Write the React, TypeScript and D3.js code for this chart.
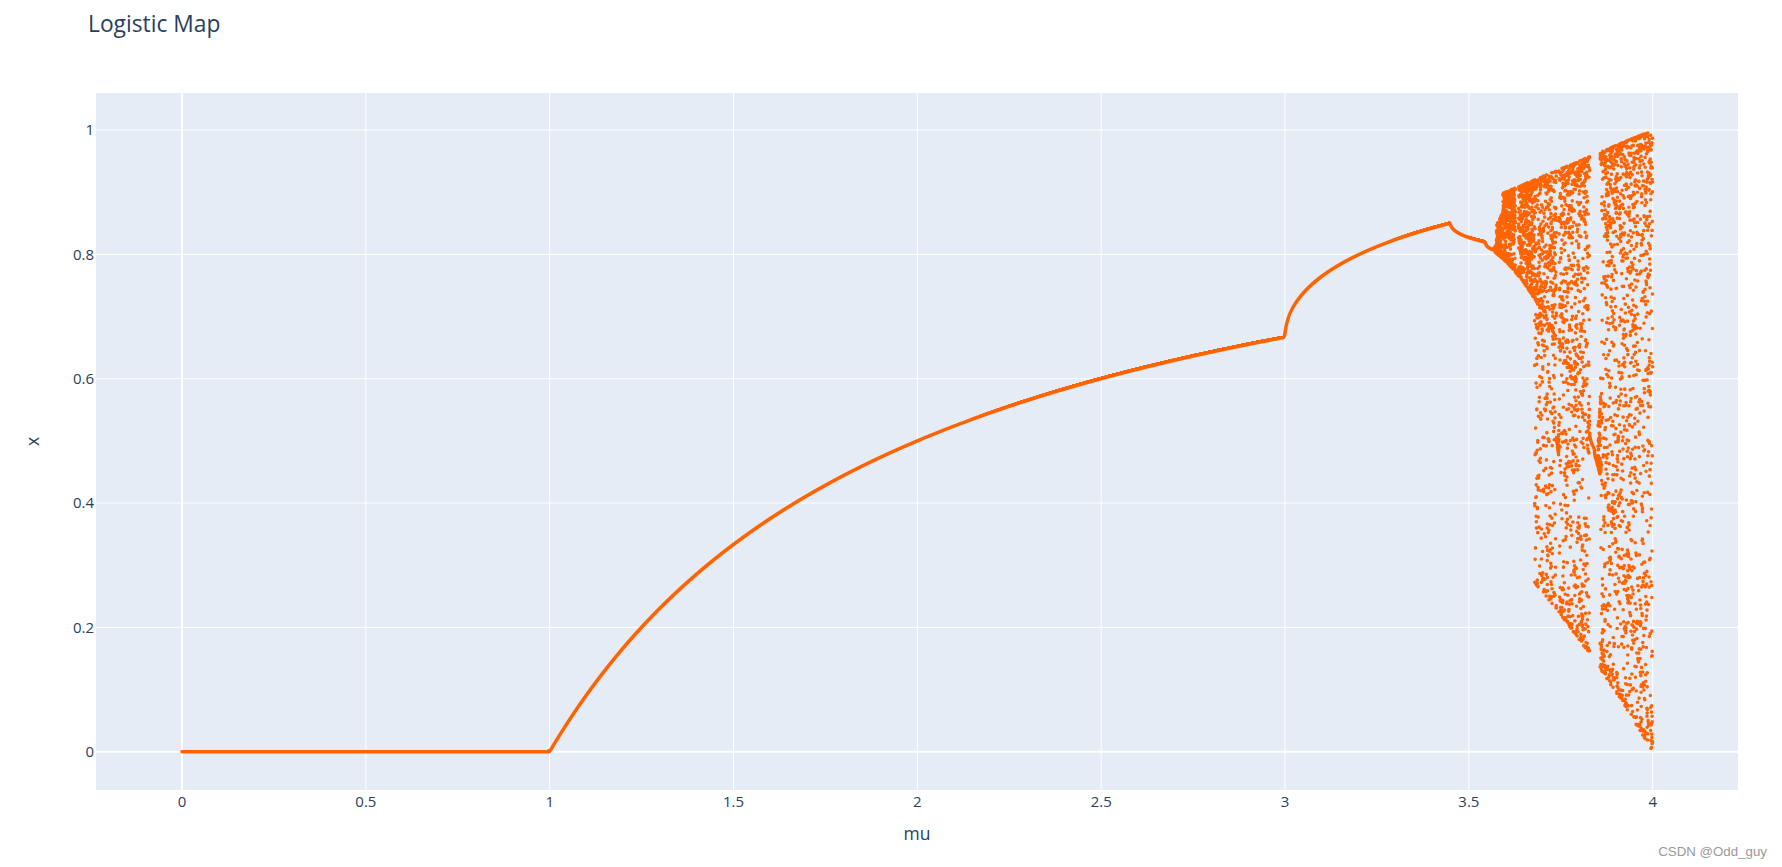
import React, { useMemo } from 'react';
import * as d3 from 'd3';

// ---- chart content ----
const TITLE = 'Logistic Map';
const X_LABEL = 'mu';
const Y_LABEL = 'x';
const WATERMARK = 'CSDN @Odd_guy';

// logistic map simulation parameters (the chart plots the final iterate x_n for each mu)
const MU_START = 0;
const MU_END = 4;
const MU_STEP = 0.0001;
const X_INITIAL = 0.5;
const ITERATIONS = 1035;

const X_TICKS = [0, 0.5, 1, 1.5, 2, 2.5, 3, 3.5, 4];
const Y_TICKS = [0, 0.2, 0.4, 0.6, 0.8, 1];
const X_DOMAIN = [-0.234, 4.232];
const Y_DOMAIN = [-0.0616, 1.0595];

// ---- layout ----
const W = 1782;
const H = 867;
const PLOT = { left: 96, right: 1738, top: 93, bottom: 790 };
const FONT = '"Open Sans", verdana, arial, sans-serif';
const TEXT_COLOR = '#2a3f5f';
const BG = '#E5ECF6';
const MARKER = '#ff6400';
const R = 1.8;

function simulate() {
  const mus: number[] = [];
  const xs: number[] = [];
  const n = Math.round((MU_END - MU_START) / MU_STEP);
  for (let i = 0; i < n; i++) {
    const mu = MU_START + i * MU_STEP;
    let x = X_INITIAL;
    for (let k = 0; k < ITERATIONS; k++) x = mu * x * (1 - x);
    mus.push(mu);
    xs.push(x);
  }
  return { mus, xs };
}

export default function App() {
  const xScale = d3.scaleLinear().domain(X_DOMAIN).range([PLOT.left, PLOT.right]);
  const yScale = d3.scaleLinear().domain(Y_DOMAIN).range([PLOT.bottom, PLOT.top]);

  const pathD = useMemo(() => {
    const { mus, xs } = simulate();
    const p = d3.path();
    for (let i = 0; i < mus.length; i++) {
      const cx = xScale(mus[i]);
      const cy = yScale(xs[i]);
      p.moveTo(cx + R, cy);
      p.arc(cx, cy, R, 0, Math.PI * 2);
    }
    return p.toString();
  }, []);

  return (
    <svg
      width={W}
      height={H}
      style={{ position: 'absolute', left: 0, top: 0, background: '#fff' }}
    >
      <rect x={0} y={0} width={W} height={H} fill="#fff" />
      <rect
        x={PLOT.left}
        y={PLOT.top}
        width={PLOT.right - PLOT.left}
        height={PLOT.bottom - PLOT.top}
        fill={BG}
      />
      {X_TICKS.map((t) => (
        <line
          key={'gx' + t}
          x1={xScale(t)}
          x2={xScale(t)}
          y1={PLOT.top}
          y2={PLOT.bottom}
          stroke="#fff"
          strokeWidth={t === 0 ? 2 : 1}
        />
      ))}
      {Y_TICKS.map((t) => (
        <line
          key={'gy' + t}
          x1={PLOT.left}
          x2={PLOT.right}
          y1={yScale(t)}
          y2={yScale(t)}
          stroke="#fff"
          strokeWidth={t === 0 ? 2 : 1}
        />
      ))}
      <defs>
        <clipPath id="clip">
          <rect
            x={PLOT.left}
            y={PLOT.top}
            width={PLOT.right - PLOT.left}
            height={PLOT.bottom - PLOT.top}
          />
        </clipPath>
      </defs>
      <g clipPath="url(#clip)">
        <path d={pathD} fill={MARKER} />
      </g>
      {X_TICKS.map((t) => (
        <text
          key={'tx' + t}
          x={xScale(t)}
          y={PLOT.bottom + 17}
          textAnchor="middle"
          fontFamily={FONT}
          fontSize={15}
          fill={TEXT_COLOR}
        >
          {String(t)}
        </text>
      ))}
      {Y_TICKS.map((t) => (
        <text
          key={'ty' + t}
          x={PLOT.left - 2}
          y={yScale(t) + 5.3}
          textAnchor="end"
          fontFamily={FONT}
          fontSize={15}
          fill={TEXT_COLOR}
        >
          {String(t)}
        </text>
      ))}
      <text
        x={(PLOT.left + PLOT.right) / 2}
        y={840}
        textAnchor="middle"
        fontFamily={FONT}
        fontSize={17.5}
        fill={TEXT_COLOR}
      >
        {X_LABEL}
      </text>
      <text
        transform={`translate(39,${(PLOT.top + PLOT.bottom) / 2}) rotate(-90)`}
        textAnchor="middle"
        fontFamily={FONT}
        fontSize={17.5}
        fill={TEXT_COLOR}
      >
        {Y_LABEL}
      </text>
      <text x={88} y={32} fontFamily={FONT} fontSize={22.8} fill={TEXT_COLOR}>
        {TITLE}
      </text>
      <text
        x={1767}
        y={856}
        textAnchor="end"
        fontFamily='"Liberation Sans", Arial, sans-serif'
        fontSize={13.3}
        fill="#999"
      >
        {WATERMARK}
      </text>
    </svg>
  );
}
